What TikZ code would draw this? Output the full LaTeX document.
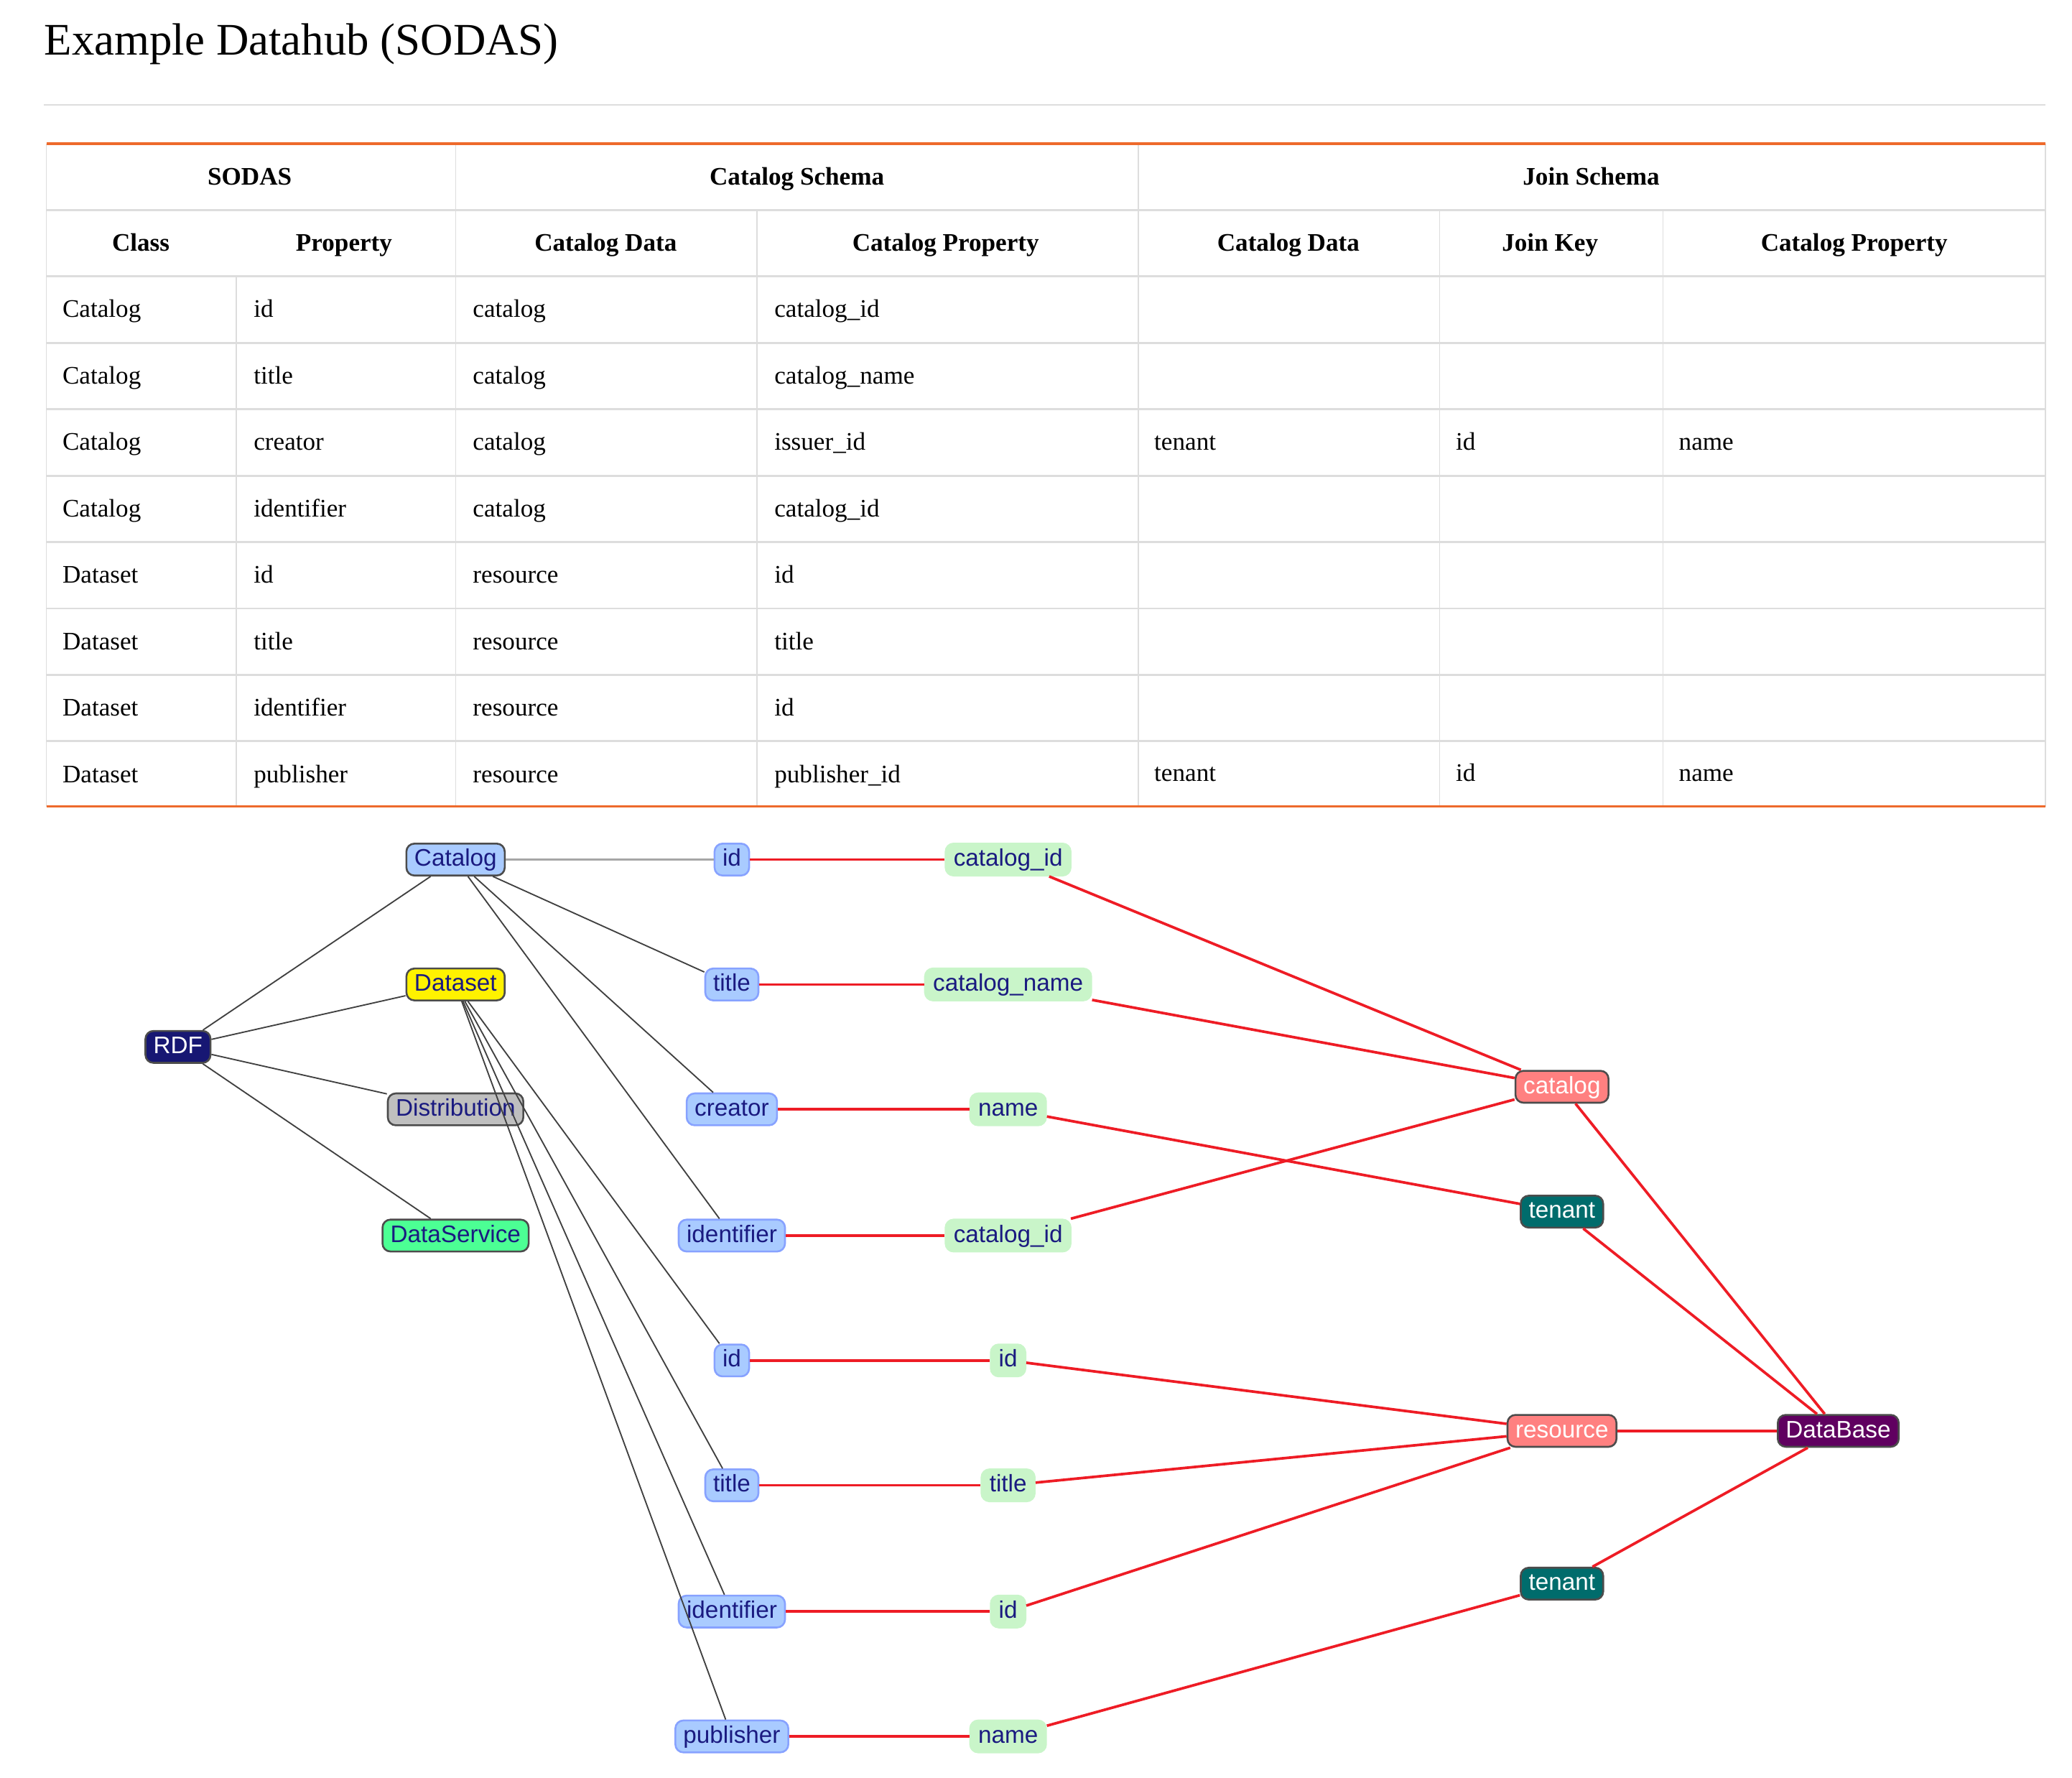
\documentclass[tikz,border=0pt]{standalone}
\usepackage{fontspec}
\setmainfont{Liberation Serif}
\newfontfamily\graphfont{Liberation Sans}
\definecolor{ink}{HTML}{1A1A80}
\definecolor{orng}{HTML}{EE6A2C}
\definecolor{rule}{HTML}{DDDDDD}
\definecolor{propfill}{HTML}{A9CBFF}
\definecolor{colfill}{HTML}{C9F5C9}
\definecolor{redline}{HTML}{EE1C25}
\tikzset{
  gnode/.style={rounded corners=3pt,inner xsep=3pt,inner ysep=1.5pt,text height=7pt,text depth=2pt,font=\graphfont\fontsize{9}{10}\selectfont,text=ink,draw=black!70,line width=0.7pt},
  prop/.style={gnode,fill=propfill,draw=propfill!80!blue},
  col/.style={gnode,fill=colfill,draw=colfill},
  cls/.style={gnode,fill=#1},
  dark/.style={gnode,fill=#1,text=white},
  link/.style={black!75,line width=0.5pt},
  map/.style={redline,line width=1pt},
  cell/.style={anchor=base west,font=\fontsize{9.5}{11}\selectfont},
  head/.style={anchor=base,font=\bfseries\fontsize{9.5}{11}\selectfont}
}
\begin{document}
\begin{tikzpicture}[x=0.5pt,y=-0.5pt]
\useasboundingbox (0,0) rectangle (1560,1338);
% title
\node[anchor=west,font=\fontsize{17}{20}\selectfont,inner sep=0pt] (title) at (33,33) {Example Datahub (SODAS)};
\draw[rule] (33,79) -- (1540,79);
% table grid
\foreach \y in {158,208,...,558} \draw[rule,line width=0.8pt] (35,\y) -- (1540,\y);
\draw[rule] (35,108) -- (35,607) (1540,108) -- (1540,607);
\foreach \x in {343,857} \draw[rule] (\x,108) -- (\x,607);
\foreach \x in {570,1084,1252} \draw[rule] (\x,158) -- (\x,607);
\draw[rule] (178,208) -- (178,607);
\draw[orng,line width=1pt] (35,108) -- (1540,108) (35,607) -- (1540,607);
% headers
\node[head] (h1) at (188,139) {SODAS};
\node[head] (h2) at (600,139) {Catalog Schema};
\node[head] (h3) at (1198,139) {Join Schema};
\foreach \x/\t in {106/Class,259/Property,456/Catalog Data,712/Catalog Property,970/Catalog Data,1167/Join Key,1396/Catalog Property}
  \node[head] at (\x,189) {\t};
% rows
\foreach \i/\c/\p/\d/\q in {0/Catalog/id/catalog/catalog\_id,1/Catalog/title/catalog/catalog\_name,2/Catalog/creator/catalog/issuer\_id,3/Catalog/identifier/catalog/catalog\_id,4/Dataset/id/resource/id,5/Dataset/title/resource/title,6/Dataset/identifier/resource/id,7/Dataset/publisher/resource/publisher\_id}{
  \pgfmathsetmacro\ry{239+50*\i}
  \node[cell] at (40,\ry) {\c};
  \node[cell] at (184,\ry) {\p};
  \node[cell] at (349,\ry) {\d};
  \node[cell] at (576,\ry) {\q};
}
\foreach \ry in {339,588}{
  \node[cell] at (862,\ry) {tenant};
  \node[cell] at (1089,\ry) {id};
  \node[cell] at (1257,\ry) {name};
}
% graph nodes
\node[dark=ink!90!black] (rdf) at (134,788) {RDF};
\node[cls=propfill] (catalog) at (343,647) {Catalog};
\node[cls=yellow] (dataset) at (343,741) {Dataset};
\node[cls=black!25] (distribution) at (343,835) {Distribution};
\node[cls=green!60!cyan!70] (dataservice) at (343,930) {DataService};
\foreach \n/\t/\y in {p1/id/647,p2/title/741,p3/creator/835,p4/identifier/930,p5/id/1024,p6/title/1118,p7/identifier/1213,p8/publisher/1307}
  \node[prop] (\n) at (551,\y) {\t};
\foreach \n/\t/\y in {c1/catalog\_id/647,c2/catalog\_name/741,c3/name/835,c4/catalog\_id/930,c5/id/1024,c6/title/1118,c7/id/1213,c8/name/1307}
  \node[col] (\n) at (759,\y) {\t};
\node[dark=red!50] (tcatalog) at (1176,818) {catalog};
\node[dark=teal!85!black] (tenantA) at (1176,912) {tenant};
\node[dark=red!50] (tresource) at (1176,1077) {resource};
\node[dark=teal!85!black] (tenantB) at (1176,1192) {tenant};
\node[dark=violet!75!black] (db) at (1384,1077) {DataBase};
% connectors
\foreach \n in {catalog,dataset,distribution,dataservice} \draw[link] (rdf) -- (\n);
\draw[black!35,line width=0.8pt] (catalog) -- (p1);
\foreach \n in {p2,p3,p4} \draw[link] (catalog) -- (\n);
\foreach \n in {p5,p6,p7,p8} \draw[link] (dataset) -- (\n);
\foreach \i in {1,...,8} \draw[map] (p\i) -- (c\i);
\foreach \a/\b in {c1/tcatalog,c2/tcatalog,c3/tenantA,c4/tcatalog,c5/tresource,c6/tresource,c7/tresource,c8/tenantB,tcatalog/db,tenantA/db,tresource/db,tenantB/db}
  \draw[map] (\a) -- (\b);
\end{tikzpicture}
\end{document}
